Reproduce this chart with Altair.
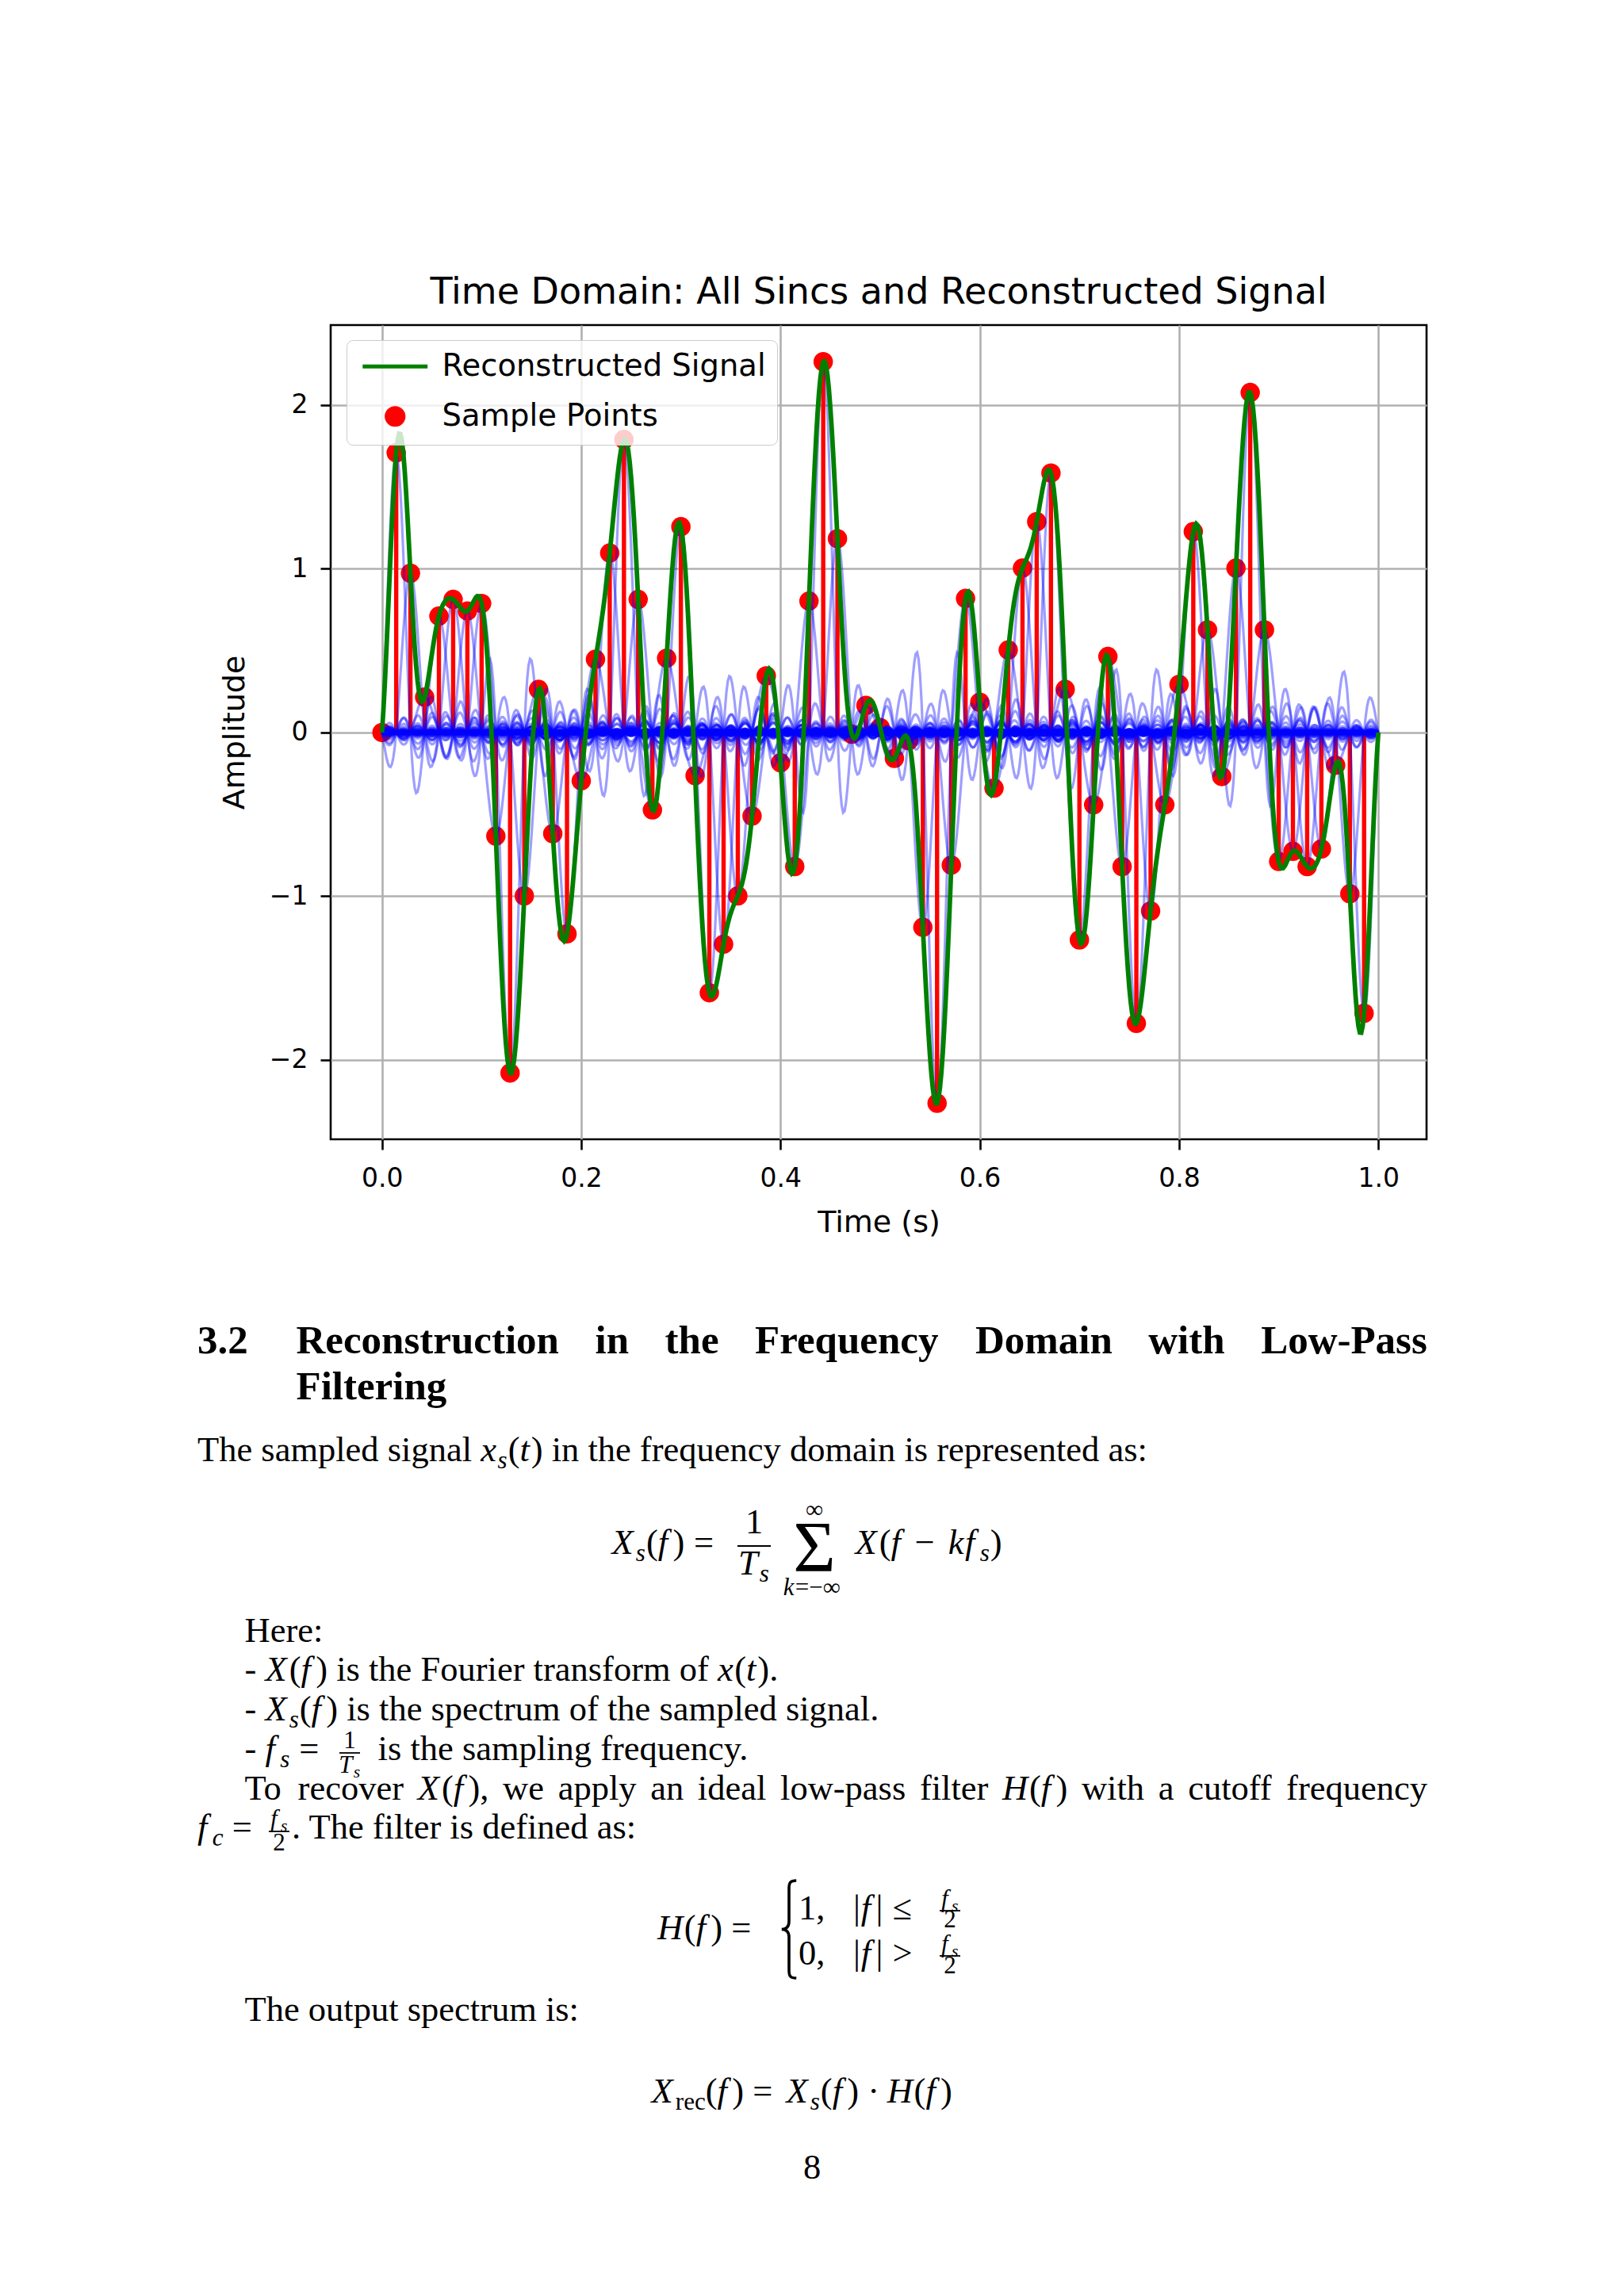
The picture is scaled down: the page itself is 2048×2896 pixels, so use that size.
import altair as alt
import pandas as pd

# ---------------- data ----------------
SAMPLES = [0.0, 1.709, 0.973, 0.216, 0.711, 0.813, 0.742, 0.788, -0.633, -2.08,
           -0.998, 0.263, -0.618, -1.23, -0.295, 0.447, 1.096, 1.79, 0.813, -0.473,
           0.454, 1.257, -0.263, -1.59, -1.293, -0.998, -0.51, 0.346, -0.185, -0.819,
           0.803, 2.265, 1.184, -0.01, 0.165, 0.03, -0.158, -0.05, -1.19, -2.265,
           -0.81, 0.819, 0.185, -0.34, 0.504, 1.004, 1.288, 1.585, 0.263, -1.267,
           -0.442, 0.464, -0.819, -1.777, -1.09, -0.442, 0.294, 1.227, 0.627, -0.269,
           1.004, 2.077, 0.627, -0.788, -0.726, -0.819, -0.711, -0.2, -0.985, -1.715]
FS = 70            # samples per second
N_STEPS = 10       # evaluation points per sample period for the sinc curves
SERIES = ["Reconstructed Signal", "Sample Points"]
SERIES_COLORS = ["green", "red"]
X_TICKS = [0.0, 0.2, 0.4, 0.6, 0.8, 1.0]
Y_TICKS = [-2, -1, 0, 1, 2]
X_DOMAIN = [-0.0515, 1.0484]
Y_DOMAIN = [-2.485, 2.489]
TITLE = "Time Domain: All Sincs and Reconstructed Signal"
X_TITLE = "Time (s)"
Y_TITLE = "Amplitude"

# ---------------- layout ----------------
W, H = 1382, 1027
OX, OY = 417, 410          # page position of the plot area
PAGE_W, PAGE_H = 2032, 2880

samples = pd.DataFrame({"n": list(range(len(SAMPLES))), "v": SAMPLES})
nsteps = len(SAMPLES) * N_STEPS

xs = alt.Scale(domain=X_DOMAIN, nice=False, zero=False)
ys = alt.Scale(domain=Y_DOMAIN, nice=False, zero=False)
x_axis = alt.Axis(values=X_TICKS, format=".1f", title=X_TITLE, labelPadding=20, titlePadding=20)
y_axis = alt.Axis(values=Y_TICKS, format="d", title=Y_TITLE, labelPadding=16, titlePadding=24)

X = alt.X("t:Q", scale=xs, axis=x_axis)

pts = alt.Chart(samples).transform_calculate(t=f"datum.n / {FS}")

stems = pts.mark_rule(color="red", strokeWidth=5.4).encode(
    x=X, y=alt.Y("v:Q", scale=ys, axis=y_axis), y2=alt.datum(0))

baseline = pts.transform_aggregate(t0="min(t)", t1="max(t)").mark_rule(
    color="#d62728", strokeWidth=5).encode(
    x=alt.X("t0:Q", scale=xs, axis=x_axis), x2="t1:Q",
    y=alt.Y(datum=0, scale=ys, axis=y_axis))

dots = pts.mark_circle(color="red", size=600, opacity=1).encode(
    x=X, y=alt.Y("v:Q", scale=ys, axis=y_axis))

sinc = alt.Chart(samples).transform_calculate(
    tt=f"sequence(0, {nsteps + 1})"
).transform_flatten(["tt"]).transform_calculate(
    t=f"datum.tt / {nsteps}",
    u=f"datum.tt / {N_STEPS} - datum.n",
).transform_calculate(
    s="datum.u == 0 ? datum.v : datum.v * sin(PI * datum.u) / (PI * datum.u)"
)

sinc_lines = sinc.mark_line(color="blue", strokeWidth=3.2, opacity=0.38, clip=True).encode(
    x=X, y=alt.Y("s:Q", scale=ys, axis=y_axis), detail="n:N")

recon = sinc.transform_aggregate(rec="sum(s)", groupby=["t"]).mark_line(
    color="green", strokeWidth=5.8, clip=True).encode(
    x=X, y=alt.Y("rec:Q", scale=ys, axis=y_axis), order="t:Q")

LEG = alt.Legend(title=None, orient="none", legendX=20, legendY=19,
                 symbolSize=441, symbolStrokeWidth=5.2, symbolOffset=28,
                 labelOffset=40, rowPadding=22, padding=14, zindex=1,
                 labelLimit=1000)
leg_df = pd.DataFrame({"series": SERIES})
legend_layer = alt.Chart(leg_df).mark_point(filled=True, opacity=1, strokeWidth=5.2, clip=True).encode(
    x=alt.value(-900), y=alt.value(-900),
    fill=alt.Fill("series:N", scale=alt.Scale(domain=SERIES, range=SERIES_COLORS), legend=LEG),
    stroke=alt.Stroke("series:N", scale=alt.Scale(domain=SERIES, range=SERIES_COLORS), legend=LEG),
    shape=alt.Shape("series:N", scale=alt.Scale(domain=SERIES, range=["M-3.9,0H3.9", "circle"]), legend=LEG),
)

# ---------------- page text (LaTeX-like) ----------------
def _w(chars, widths):
    return dict(zip(chars, widths))

ROMAN = {}
ROMAN.update(_w(" !(),-.:;", [250, 333, 333, 333, 250, 333, 250, 278, 278]))
ROMAN.update({d: 500 for d in "0123456789"})
ROMAN.update(_w("ABCDEFGHIJKLMNOPQRSTUVWXYZ",
                [722, 667, 667, 722, 611, 556, 722, 722, 333, 389, 722, 611, 889, 722, 722, 556, 722, 667, 556, 611, 722, 722, 944, 722, 722, 611]))
ROMAN.update(_w("abcdefghijklmnopqrstuvwxyz",
                [444, 500, 444, 500, 444, 333, 500, 500, 278, 278, 500, 278, 778, 500, 500, 500, 500, 333, 389, 278, 500, 500, 722, 500, 500, 444]))
# math symbols use wider, TeX-like advances
ROMAN.update({"=": 700, "|": 220, "·": 300, "≤": 700, ">": 700, "−": 700, "∞": 713, "Σ": 590, "{": 480})
MATH_IT = {"X": 680, "H": 760, "T": 600, "f": 420, "x": 480, "t": 320, "s": 420, "k": 480, "c": 450}
BOLD = {}
BOLD.update({" ": 250, ".": 250, "-": 333})
BOLD.update({d: 500 for d in "0123456789"})
BOLD.update(_w("ABCDEFGHIJKLMNOPQRSTUVWXYZ",
               [722, 667, 722, 722, 667, 611, 778, 778, 389, 500, 778, 667, 944, 722, 778, 611, 778, 722, 556, 667, 722, 722, 1000, 722, 722, 667]))
BOLD.update(_w("abcdefghijklmnopqrstuvwxyz",
               [500, 556, 444, 556, 444, 333, 500, 556, 278, 333, 556, 278, 833, 556, 500, 556, 556, 444, 389, 333, 556, 500, 722, 500, 500, 444]))

BODY = 44.5
SUBR = 0.7
FONT = "Liberation Serif"

segs = []   # dicts: x, y (page coords, baseline), text, size, style, weight, align
bars = []   # (x0, x1, y)


def width(text, kind, size):
    table = BOLD if kind == "b" else (MATH_IT if kind in ("i", "si") else ROMAN)
    s = size * (SUBR if kind in ("si", "sr") else 1.0)
    return sum(table.get(c, ROMAN.get(c, 500)) for c in text) / 1000.0 * s


def run(x, y, parts, size=BODY, emit=True):
    for text, kind in parts:
        sk = "b" if kind == "b" else "r"
        core = text.strip(" ")
        lead = len(text) - len(text.lstrip(" "))
        tail = (len(text) - len(text.rstrip(" "))) if core else 0
        x += width(" " * lead, sk, size)
        if core:
            fs = size * (SUBR if kind in ("si", "sr") else 1.0)
            dy = 0.2 * size if kind in ("si", "sr") else 0.0
            if emit:
                segs.append(dict(x=x, y=y + dy, text=core, size=fs,
                                 style="italic" if kind in ("i", "si") else "normal",
                                 weight="bold" if kind == "b" else "normal", align="left"))
            x += width(core, kind, size)
        x += width(" " * tail, sk, size)
    return x


def run_width(parts, size=BODY):
    return run(0, 0, parts, size, emit=False)


def justify(x0, x1, y, words, size=BODY):
    total = sum(run_width(w, size) for w in words)
    gap = (x1 - x0 - total) / (len(words) - 1)
    x = x0
    for w in words:
        x = run(x, y, w, size) + gap


def centered(cx, y, parts, size=BODY):
    wdt = run_width(parts, size)
    return run(cx - wdt / 2, y, parts, size)


def frac(cx, ynum, yden, ybar, num, den, size, half):
    centered(cx, ynum, num, size)
    centered(cx, yden, den, size)
    bars.append((cx - half, cx + half, ybar))


R, I, B, SI, SR = "r", "i", "b", "si", "sr"
SMALL = 31

# heading
HB = 51
run(249, 1707, [("3.2", B)], HB)
justify(373.5, 1799.8, 1707,
        [[(w, B)] for w in "Reconstruction in the Frequency Domain with Low-Pass".split()], HB)
run(373.5, 1764.5, [("Filtering", B)], HB)

run(249, 1843, [("The sampled signal ", R), ("x", I), ("s", SI), ("(", R), ("t", I), (")", R),
                (" in the frequency domain is represented as:", R)])

# display equation 1
run(771.6, 1960, [("X", I), ("s", SI), ("(", R), ("f", I), (")", R)])
run(875, 1960, [("=", R)])
frac(951, 1934, 1986, 1950, [("1", R)], [("T", I), ("s", SI)], BODY, 21)
segs.append(dict(x=1027, y=1982, text="Σ", size=92, style="normal", weight="normal", align="center"))
centered(1027, 1914, [("∞", R)], SMALL)
centered(1028, 2012, [("k", I), ("=−∞", R)], SMALL)
run(1078.5, 1960, [("X", I), ("(", R), ("f", I), (" − ", R), ("k", I), ("f", I), ("s", SI), (")", R)])

run(308.5, 2070.5, [("Here:", R)])
run(308.5, 2120, [("- ", R), ("X", I), ("(", R), ("f", I), (") is the Fourier transform of ", R),
                  ("x", I), ("(", R), ("t", I), (").", R)])
run(308.5, 2170, [("- ", R), ("X", I), ("s", SI), ("(", R), ("f", I),
                  (") is the spectrum of the sampled signal.", R)])
run(308.5, 2220, [("- ", R), ("f", I), ("s", SI), (" =", R)])
frac(441, 2205, 2236, 2211, [("1", R)], [("T", I), ("s", SI)], SMALL, 13)
run(476.6, 2220, [("is the sampling frequency.", R)])

justify(308.5, 1800, 2269.5,
        [[("To", R)], [("recover", R)], [("X", I), ("(", R), ("f", I), ("),", R)], [("we", R)],
         [("apply", R)], [("an", R)], [("ideal", R)], [("low-pass", R)], [("filter", R)],
         [("H", I), ("(", R), ("f", I), (")", R)], [("with", R)], [("a", R)], [("cutoff", R)],
         [("frequency", R)]])

run(249, 2319, [("f", I), ("c", SI), (" =", R)])
frac(352, 2304, 2334, 2310, [("f", I), ("s", SI)], [("2", R)], SMALL, 13)
run(368, 2319, [(". The filter is defined as:", R)])

# cases equation
run(829, 2446, [("H", I), ("(", R), ("f", I), (")", R), (" =", R)])
run(1007, 2421, [("1,", R)])
run(1076, 2421, [("|", R), ("f", I), ("|", R), (" ≤", R)])
frac(1198, 2405, 2431, 2410, [("f", I), ("s", SI)], [("2", R)], SMALL, 13)
run(1007, 2478, [("0,", R)])
run(1076, 2478, [("|", R), ("f", I), ("|", R), (" >", R)])
frac(1198, 2462, 2489, 2467, [("f", I), ("s", SI)], [("2", R)], SMALL, 13)

run(308.5, 2548.7, [("The output spectrum is:", R)])
run(821.5, 2652, [("X", I), ("rec", SR), ("(", R), ("f", I), (")", R), (" = ", R), ("X", I), ("s", SI),
                  ("(", R), ("f", I), (")", R), (" · ", R), ("H", I), ("(", R), ("f", I), (")", R)])
segs.append(dict(x=1024, y=2747.6, text="8", size=BODY, style="normal", weight="normal", align="center"))

one = alt.Data(values=[{}])
text_layers = []
for s in segs:
    text_layers.append(
        alt.Chart(one).mark_text(
            text=s["text"], font=FONT, fontSize=s["size"], fontStyle=s["style"],
            fontWeight=s["weight"], align=s["align"], baseline="alphabetic", color="black"
        ).encode(x=alt.value(s["x"] - OX), y=alt.value(s["y"] - OY)))
for (a, b, yy) in bars:
    text_layers.append(
        alt.Chart(one).mark_rule(color="black", strokeWidth=1.8).encode(
            x=alt.value(a - OX), x2=alt.value(b - OX), y=alt.value(yy - OY)))

# curly brace of the cases environment, drawn as a stroked path symbol
BRACE = ("M0.15,-1 C0.03,-1 0,-0.96 0,-0.84 L0,-0.16 C0,-0.05 -0.06,0 -0.15,0 "
         "C-0.06,0 0,0.05 0,0.16 L0,0.84 C0,0.96 0.03,1 0.15,1")
text_layers.append(
    alt.Chart(one).mark_point(shape=BRACE, size=123 * 123, filled=False, color="black",
                              strokeWidth=3.6, opacity=1).encode(
        x=alt.value(995 - OX), y=alt.value(2433.5 - OY)))

chart = alt.layer(stems, baseline, dots, sinc_lines, recon, legend_layer, *text_layers).properties(
    width=W, height=H,
    title=alt.Title(TITLE),
    padding={"left": OX - 8, "top": OY - 8, "right": PAGE_W - (OX - 8) - W, "bottom": PAGE_H - (OY - 8) - H},
    autosize=alt.AutoSizeParams(type="none"),
    background="white",
).configure_view(
    stroke="black", strokeWidth=2.6
).configure_axis(
    grid=True, gridColor="#b0b0b0", gridWidth=2.6, domain=False,
    tickColor="black", tickWidth=2.6, tickSize=13,
    labelFont="DejaVu Sans", labelFontSize=33, labelColor="black",
    titleFont="DejaVu Sans", titleFontSize=38, titleFontWeight="normal", titleColor="black",
).configure_legend(
    fillColor="rgba(255,255,255,0.8)", strokeColor="#cccccc", cornerRadius=8,
    labelFont="DejaVu Sans", labelFontSize=38.5, labelColor="black", symbolOpacity=1,
).configure_title(
    font="DejaVu Sans", fontSize=46, fontWeight="normal", color="black",
    anchor="middle", baseline="alphabetic", offset=17,
)

chart.save("out.html", embed_options={"renderer": "svg", "actions": False})
